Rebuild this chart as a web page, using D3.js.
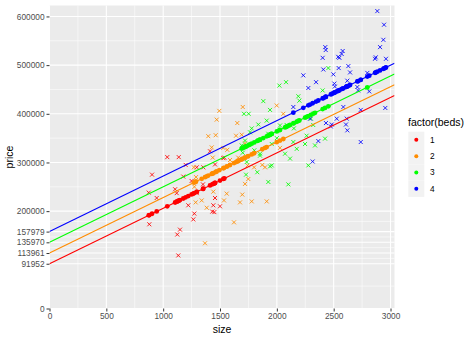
<!DOCTYPE html>
<html><head><meta charset="utf-8">
<script src="https://cdn.jsdelivr.net/npm/d3@7"></script>
<style>body{margin:0;background:#fff;} text{font-family:"Liberation Sans",Arial,sans-serif;}</style>
</head><body><svg id="c" width="474" height="338"></svg>
<script>
// ---- data ----
const beds = ["1","2","3","4"];
const bedColors = ["#FF0000","#FF8C00","#00FF00","#0000FF"];
const intercepts = [91952,113961,135970,157979];
const slope = 113.9;
const xTicks = [0,500,1000,1500,2000,2500,3000];
const yTicks = [0,91952,113961,135970,157979,200000,300000,400000,500000,600000];

const size1  = [1036,1137,902,1295,1412,1456,1538,1198,873,943,1119,1221,1274,1265,1148,1124,878,1456,1441,1432,1450,1500,1133,1296,1350,1177,1353,1529,1105,1250];
const price1 = [311000,311000,275000,290000,323000,296000,310000,295000,238000,227000,237000,212000,195000,183000,162000,152000,173000,227000,212000,199000,198000,210000,109000,237000,255000,271000,290000,309000,245000,262000];

const size2  = [1494,1471,1652,1700,1397,1462,1641,1691,1427,1564,1720,1436,1588,1743,1529,1289,1559,1535,1339,1383,1286,1623,1368,1676,1696,1779,1911,1720,1749,1896,1999,2057,1270,1660,1800,1275,1872,2028,1441];
const price2 = [406000,388000,381000,414000,354000,356000,355000,357000,331000,326000,339000,310000,305000,294000,330000,270000,236000,222000,222000,207000,218000,177000,134000,218000,234000,220000,220000,256000,266000,290000,417000,400000,290000,310000,290000,250000,295000,330000,240000];

const size3  = [2022,2081,1881,1711,1752,1940,1779,1837,1911,2189,2198,2453,2403,2796,1925,2028,1691,1852,1955,2072,2116,2175,2248,2262,2336,2424,2277,2101,1925,1828,1955,1729,1940,1735,1852,1764,1720,1802,2000,2150,2300,1700,2320,2145,2086];
const price3 = [458000,465000,426000,400000,400000,408000,370000,378000,386000,436000,427000,494000,448000,453000,359000,376000,335000,318000,338000,318000,308000,328000,338000,355000,335000,349000,294000,255000,260000,280000,294000,275000,292000,301000,314000,362000,345000,325000,350000,370000,390000,320000,377000,342000,377000];

const size4  = [2884,2943,2937,2908,2864,2870,2960,2426,2430,2403,2579,2570,2550,2540,2629,2544,2409,2644,2233,2497,2345,2277,2620,2506,2510,2708,2715,2796,2813,2585,2145,2954,2738,2527,2292,2615,2483,2475,2432,2608,2620,2365,2738,2315];
const price4 = [611000,583000,552000,537000,513000,516000,513000,537000,531000,515000,529000,523000,515000,517000,498000,494000,491000,485000,479000,481000,465000,453000,468000,462000,456000,455000,448000,484000,446000,414000,414000,412000,408000,390000,390000,390000,378000,374000,381000,378000,366000,344000,342000,302000];

const sizes = [size1,size2,size3,size4];
const prices = [price1,price2,price3,price4];

// ---- layout ----
const svg = d3.select("#c");
const P = {l:49.5, r:394.5, t:5.5, b:308.5};
const x = d3.scaleLinear().domain([0,3035]).range([P.l,P.r]);
const y = d3.scaleLinear().domain([0,622500]).range([P.b,P.t]);

svg.append("rect").attr("x",P.l).attr("y",P.t).attr("width",P.r-P.l).attr("height",P.b-P.t).attr("fill","#EBEBEB");

const g = svg.append("g");
const xMinor = xTicks.slice(0,-1).map((v,i)=>(v+xTicks[i+1])/2);
const yMinor = yTicks.slice(0,-1).map((v,i)=>(v+yTicks[i+1])/2);
g.selectAll(".xm").data(xMinor).join("line").attr("x1",d=>x(d)).attr("x2",d=>x(d)).attr("y1",P.t).attr("y2",P.b).attr("stroke","#fff").attr("stroke-width",0.55);
g.selectAll(".ym").data(yMinor).join("line").attr("y1",d=>y(d)).attr("y2",d=>y(d)).attr("x1",P.l).attr("x2",P.r).attr("stroke","#fff").attr("stroke-width",0.55);
g.selectAll(".xM").data(xTicks).join("line").attr("x1",d=>x(d)).attr("x2",d=>x(d)).attr("y1",P.t).attr("y2",P.b).attr("stroke","#fff").attr("stroke-width",1.1);
g.selectAll(".yM").data(yTicks).join("line").attr("y1",d=>y(d)).attr("y2",d=>y(d)).attr("x1",P.l).attr("x2",P.r).attr("stroke","#fff").attr("stroke-width",1.1);

// crosses
const cross = "M-2,-2L2,2M-2,2L2,-2";
beds.forEach((b,i)=>{
  const pts = sizes[i].map((s,j)=>({s, p:prices[i][j]}));
  svg.append("g").selectAll("path").data(pts).join("path")
    .attr("d",cross).attr("transform",d=>`translate(${x(d.s)},${y(d.p)})`)
    .attr("stroke",bedColors[i]).attr("stroke-width",0.95).attr("fill","none").attr("opacity",0.9);
});
// regression lines (clipped to panel)
svg.append("clipPath").attr("id","cp").append("rect").attr("x",P.l).attr("y",P.t).attr("width",P.r-P.l).attr("height",P.b-P.t);
const lg = svg.append("g").attr("clip-path","url(#cp)");
beds.forEach((b,i)=>{
  const d0 = x.domain();
  lg.append("line").attr("x1",x(d0[0])).attr("y1",y(intercepts[i]+slope*d0[0]))
    .attr("x2",x(d0[1])).attr("y2",y(intercepts[i]+slope*d0[1]))
    .attr("stroke",bedColors[i]).attr("stroke-width",1.1);
});
// fitted values
beds.forEach((b,i)=>{
  svg.append("g").selectAll("circle").data(sizes[i]).join("circle")
    .attr("cx",d=>x(d)).attr("cy",d=>y(intercepts[i]+slope*d)).attr("r",2.4)
    .attr("fill",bedColors[i]);
});

// axes
const xa = svg.append("g").attr("transform",`translate(0,${P.b})`)
  .call(d3.axisBottom(x).tickValues(xTicks).tickSize(3).tickPadding(2).tickFormat(d3.format("d")));
const ya = svg.append("g").attr("transform",`translate(${P.l},0)`)
  .call(d3.axisLeft(y).tickValues(yTicks).tickSize(3).tickPadding(2).tickFormat(d3.format("d")));
[xa,ya].forEach(a=>{
  a.select(".domain").remove();
  a.selectAll(".tick line").attr("stroke","#333333").attr("stroke-width",1);
  a.selectAll(".tick text").attr("fill","#4D4D4D").attr("font-size","8.3px").attr("font-family","Liberation Sans, Arial, sans-serif");
});

svg.append("text").attr("x",(P.l+P.r)/2).attr("y",333).attr("text-anchor","middle").attr("font-size","10.5px").attr("fill","#000").text("size");
svg.append("text").attr("transform",`translate(13,${(P.t+P.b)/2}) rotate(-90)`).attr("text-anchor","middle").attr("font-size","10.5px").attr("fill","#000").text("price");

// legend
const L = svg.append("g");
L.append("text").attr("x",408).attr("y",126).attr("font-size","10.5px").text("factor(beds)");
beds.forEach((b,i)=>{
  const ky = 131.7 + i*16.3;
  L.append("rect").attr("x",408.3).attr("y",ky).attr("width",16).attr("height",16.3).attr("fill","#F2F2F2");
  L.append("circle").attr("cx",416.3).attr("cy",ky+8.15).attr("r",2).attr("fill",bedColors[i]);
  L.append("text").attr("x",430).attr("y",ky+11).attr("font-size","8.3px").attr("fill","#000").text(b);
});
</script></body></html>
